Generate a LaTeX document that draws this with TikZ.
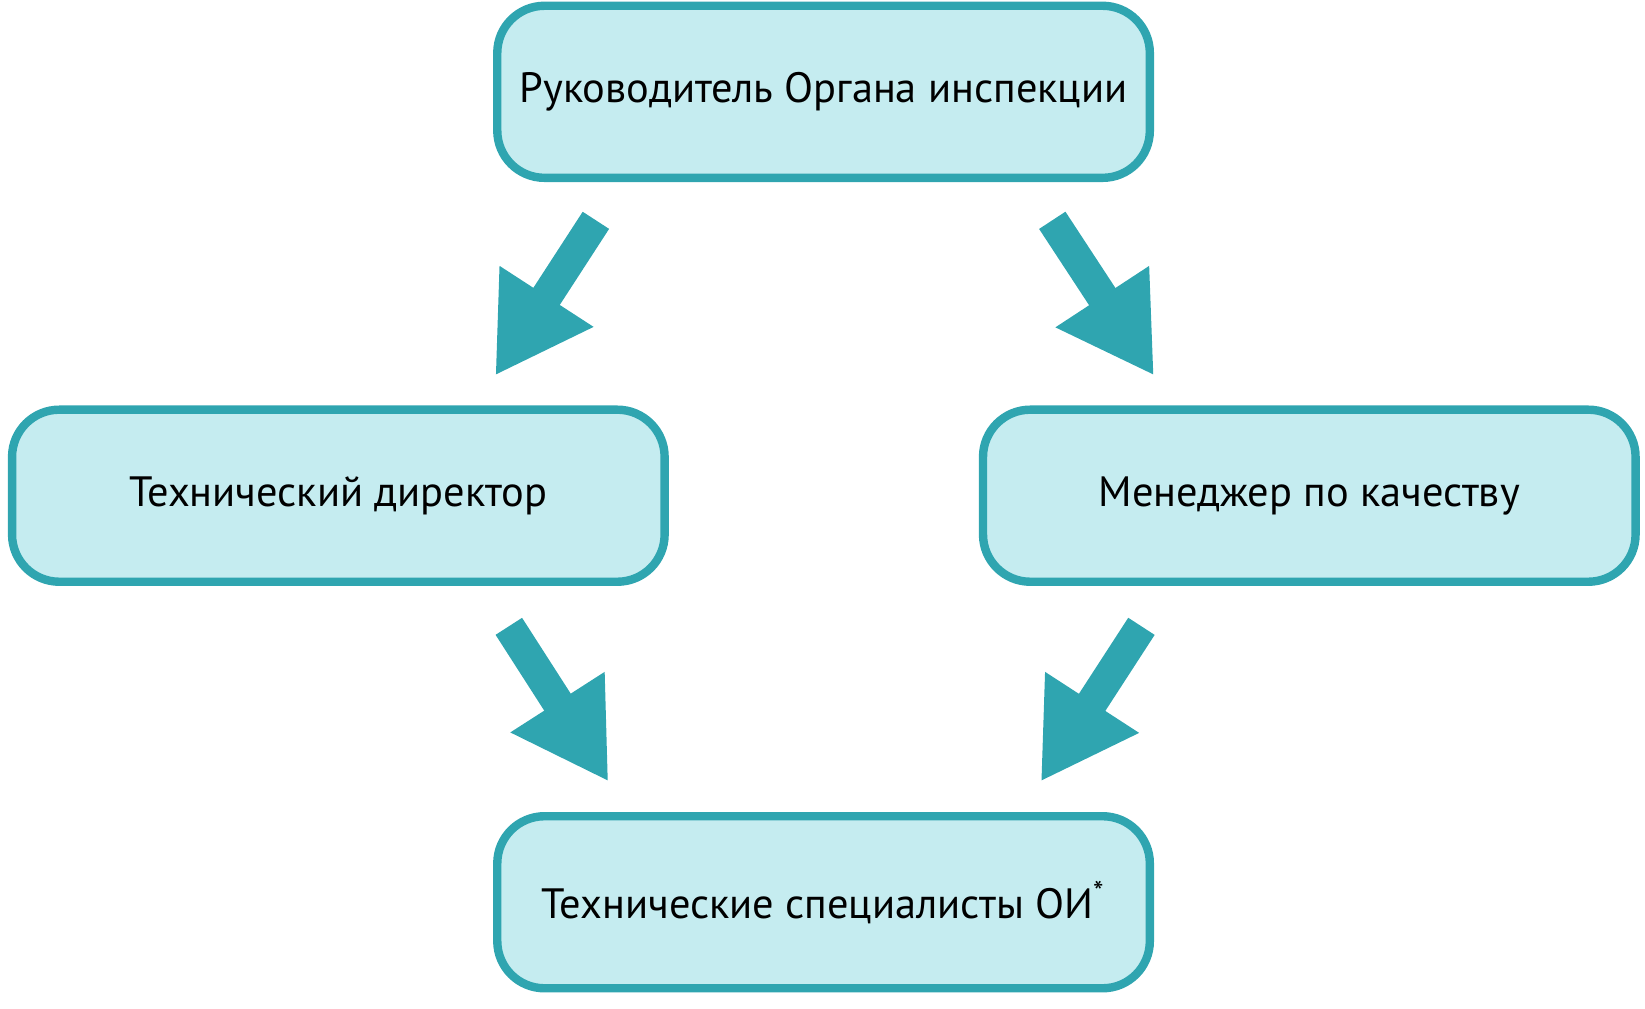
\documentclass[tikz,border=0pt]{standalone}
\usepackage{fontspec}
\setmainfont{PT Sans}
\usetikzlibrary{arrows.meta,positioning}
\definecolor{teal}{HTML}{2FA5B0}
\definecolor{paleteal}{HTML}{C5ECF0}
\tikzset{
  orgbox/.style={draw=teal,fill=paleteal,line width=0.08cm,rounded corners=0.45cm,
    minimum width=6.22cm,minimum height=1.64cm,font=\fontsize{11.5}{13}\selectfont},
  blockarrow/.style={draw=teal,line width=0.3cm,-{Triangle[length=0.9cm,width=1cm]}}
}
\begin{document}
\begin{tikzpicture}
  \useasboundingbox (0,0) rectangle (15.68,-9.61);
  \node[orgbox] (head) at (7.85,-0.875) {Руководитель Органа инспекции};
  \node[orgbox] (tech) at (3.225,-4.725) {Технический директор};
  \node[orgbox] (qual) at (12.48,-4.725) {Менеджер по качеству};
  \node[orgbox] (staff) at (7.85,-8.6) {Технические специалисты ОИ\textsuperscript{*}};
  % arrow ends
  \coordinate (a1s) at (5.68,-2.1);  \coordinate (a1e) at (4.72,-3.58);
  \coordinate (a2s) at (10.03,-2.1); \coordinate (a2e) at (11.0,-3.58);
  \coordinate (a3s) at (4.85,-5.97); \coordinate (a3e) at (5.8,-7.45);
  \coordinate (a4s) at (10.88,-5.97); \coordinate (a4e) at (9.92,-7.45);
  \draw[blockarrow] (a1s) -- (a1e);
  \draw[blockarrow] (a2s) -- (a2e);
  \draw[blockarrow] (a3s) -- (a3e);
  \draw[blockarrow] (a4s) -- (a4e);
\end{tikzpicture}
\end{document}
